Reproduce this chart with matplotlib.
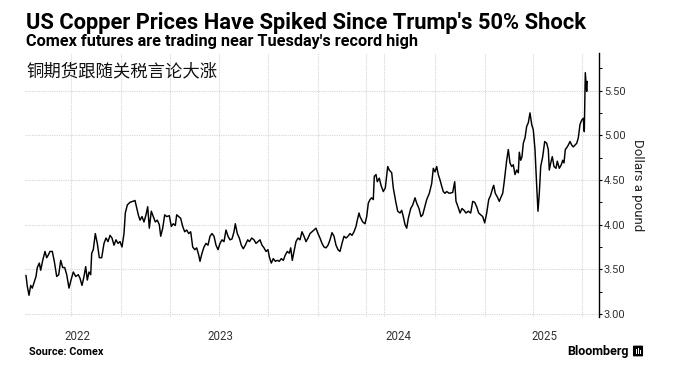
import matplotlib
matplotlib.use("Agg")
import matplotlib.pyplot as plt
from matplotlib.patches import FancyBboxPatch, Rectangle
import numpy as np

# ---------------- data (timeline position, $/lb) ----------------
t = [26, 27.3, 29, 30.7, 32.3, 34, 36, 37.3, 39.3, 40.7, 42.7, 45, 46.7, 48.3, 50, 52.3, 54.3,
     56.7, 58.7, 60.7, 62.7, 64.7, 66.7, 69, 71, 73.3, 75.7, 78.3, 80, 82, 84, 85.7, 87.3, 89,
     90.7, 91.7, 93.3, 95.3, 97.3, 99.3, 101.7, 104, 106, 108, 110, 112, 114, 116, 118, 120,
     122, 124, 125.3, 127.3, 130, 132.7, 135, 136, 138.3, 140, 142, 144, 146, 147.7, 149.3,
     151.3, 153.3, 155.3, 157.3, 159.3, 160.7, 162.7, 164.7, 166.7, 169.3, 171.3, 173.3,
     175.3, 176.7, 178.7, 180.7, 182.7, 184.7, 186.7, 188.7, 190.7, 192.7, 194.7, 196.7,
     198.7, 200, 202, 204, 206, 208, 210, 212, 214, 216, 218, 220, 222, 224, 226, 228, 230,
     232, 234, 235.3, 237.3, 239.3, 241.3, 243.3, 245.3, 247.7, 249.5, 251.7, 254, 256, 258,
     260, 262, 264, 266, 268, 269.3, 271.3, 273.3, 275.3, 277.3, 279.3, 281.3, 283.3, 285.3,
     287.3, 289.3, 290.7, 292.3, 294, 296, 298, 300, 302, 304, 306, 308, 310, 312, 314, 316,
     318, 320, 322, 324, 326, 328, 330, 332, 334, 336, 338, 340, 342, 344, 346, 348, 350, 352,
     354, 356, 357.3, 359, 360, 362.7, 365, 366.7, 368.3, 370, 371.7, 373.3, 374.3, 376,
     377.3, 379.3, 381, 383.3, 385.3, 387.7, 389.3, 391.7, 393.3, 395.7, 397.7, 400, 401.7,
     403.3, 405, 406.7, 408.3, 410.7, 412.7, 415, 416.7, 419, 421, 422.7, 424.3, 426.7, 429.3,
     431.7, 433.3, 435, 436.7, 438.3, 440, 441.7, 443.3, 445, 446.7, 449.3, 452.7, 454.7,
     456, 458, 460, 462, 464, 466, 468.3, 470.7, 472.7, 474.7, 476.7, 478.7, 480.7, 482.7,
     484.7, 486.7, 488.7, 490.7, 492.7, 493.7, 495.3, 497.3, 499.3, 500.7, 502.7, 504, 505.3,
     506.7, 508.3, 510, 511.7, 513.3, 515, 516.7, 518.3, 519.3, 520.7, 522, 523.3, 525,
     526.7, 528.3, 530, 531.7, 533.3, 535, 536.7, 538, 539.3, 540.7, 542.7, 544.7, 546.7,
     548.3, 549.3, 550.7, 552.3, 554, 556, 557.3, 559.3, 561.3, 562.7, 564, 565.3, 566.7,
     568.3, 570, 571.7, 573.3, 575, 576.7, 578.3, 580, 581.7, 583.3, 584.3, 585.3, 586.7, 587.3]

price = [3.43, 3.31, 3.21, 3.32, 3.29, 3.35, 3.42, 3.52, 3.57, 3.49, 3.60, 3.70, 3.63, 3.66, 3.70,
         3.70, 3.59, 3.42, 3.44, 3.60, 3.52, 3.52, 3.44, 3.29, 3.38, 3.47, 3.42, 3.44, 3.40, 3.32,
         3.42, 3.53, 3.38, 3.47, 3.44, 3.68, 3.72, 3.90, 3.79, 3.63, 3.63, 3.79, 3.85, 3.81, 3.88,
         3.85, 3.77, 3.83, 3.79, 3.81, 3.75, 3.90, 4.13, 4.22, 4.25, 4.26, 4.27, 4.22, 4.11, 4.05,
         4.09, 4.03, 4.11, 4.20, 3.96, 4.15, 4.09, 4.03, 4.05, 4.00, 3.87, 3.96, 4.11, 4.09, 4.10,
         3.98, 4.01, 3.99, 4.11, 4.09, 4.07, 3.98, 3.92, 3.94, 3.90, 3.92, 3.75, 3.72, 3.74, 3.66,
         3.59, 3.68, 3.75, 3.79, 3.77, 3.87, 3.90, 3.87, 3.77, 3.72, 3.79, 3.83, 3.81, 3.94, 3.87,
         3.83, 3.84, 3.92, 4.01, 3.90, 3.85, 3.77, 3.73, 3.77, 3.83, 3.81, 3.85, 3.83, 3.79, 3.81,
         3.83, 3.77, 3.74, 3.70, 3.72, 3.64, 3.57, 3.62, 3.59, 3.60, 3.59, 3.62, 3.60, 3.66, 3.70,
         3.68, 3.74, 3.60, 3.70, 3.81, 3.85, 3.83, 3.92, 3.87, 3.81, 3.85, 3.90, 3.92, 3.94, 3.96,
         3.90, 3.85, 3.79, 3.75, 3.74, 3.77, 3.83, 3.91, 3.87, 3.77, 3.72, 3.70, 3.79, 3.87, 3.85,
         3.87, 3.90, 3.88, 3.92, 3.98, 4.05, 4.13, 4.09, 4.03, 4.01, 4.09, 4.24, 4.28, 4.30, 4.28,
         4.54, 4.56, 4.48, 4.52, 4.44, 4.37, 4.41, 4.65, 4.61, 4.58, 4.41, 4.26, 4.15, 4.13, 4.16,
         4.09, 4.00, 3.96, 4.07, 4.18, 4.22, 4.30, 4.24, 4.18, 4.09, 4.11, 4.18, 4.28, 4.35, 4.46,
         4.63, 4.59, 4.65, 4.56, 4.50, 4.43, 4.37, 4.35, 4.37, 4.35, 4.36, 4.48, 4.26, 4.20, 4.13,
         4.18, 4.16, 4.13, 4.15, 4.13, 4.26, 4.25, 4.20, 4.13, 4.11, 4.09, 4.02, 4.13, 4.28, 4.33,
         4.41, 4.44, 4.35, 4.31, 4.26, 4.30, 4.35, 4.46, 4.59, 4.72, 4.84, 4.69, 4.65, 4.67, 4.56,
         4.61, 4.58, 4.81, 4.72, 4.76, 4.91, 4.97, 5.10, 5.14, 5.25, 5.12, 5.06, 4.84, 4.43, 4.15,
         4.35, 4.65, 4.76, 4.93, 4.91, 4.84, 4.61, 4.69, 4.76, 4.65, 4.63, 4.71, 4.63, 4.67, 4.72,
         4.69, 4.84, 4.86, 4.89, 4.93, 4.89, 4.87, 4.89, 4.91, 4.97, 5.12, 5.17, 5.19, 5.04, 5.70,
         5.49, 5.60]

year_labels = ["2022", "2023", "2024", "2025"]
year_pos = [77, 220, 398, 544]
grid_pos = [71, 121, 170, 219, 268, 318, 366, 384, 435, 485, 533, 582]
y_ticks = [3.00, 3.50, 4.00, 4.50, 5.00, 5.50]

# ---------------- figure ----------------
W, H = 689, 378
fig = plt.figure(figsize=(W / 100, H / 100), dpi=100)
fig.patch.set_facecolor("white")

ax = fig.add_axes([25 / W, 1 - 316.7 / H, (599 - 25) / W, (316.7 - 53) / H])
ax.plot(t, price, color="black", lw=1.05, solid_joinstyle="round")

ax.set_xlim(25, 599)
ax.set_ylim(2.97, 5.92)

for s in ["top", "left", "bottom"]:
    ax.spines[s].set_visible(False)
ax.spines["right"].set_linewidth(1.0)
ax.spines["right"].set_color("black")

# y axis on right
ax.yaxis.tick_right()
ax.set_yticks(y_ticks)
ax.set_yticklabels([f"{v:.2f}" for v in y_ticks])
ax.set_yticks(np.arange(3.25, 5.9, 0.5), minor=True)
ax.tick_params(axis="y", which="major", length=2.5, width=0.8, pad=1,
               labelsize=8, labelcolor="#333333", color="black")
ax.tick_params(axis="y", which="minor", length=2.0, width=0.7, color="black")
for lab in ax.get_yticklabels():
    lab.set_fontfamily("Roboto")

# x axis: year labels, separate gridlines
ax.set_xticks(year_pos)
ax.set_xticklabels(year_labels)
ax.set_xticks(grid_pos, minor=True)
ax.tick_params(axis="x", which="both", length=0, pad=9.5, labelsize=8.3, labelcolor="#333333")
for lab in ax.get_xticklabels():
    lab.set_fontfamily("Roboto")

ax.grid(axis="y", which="major", color="#d6d6d6", linestyle=(0, (1, 1)), lw=0.8)
ax.grid(axis="x", which="minor", color="#d6d6d6", linestyle=(0, (1, 1)), lw=0.8)
ax.grid(axis="x", which="major", visible=False)

ax.yaxis.set_label_position("right")
ax.set_ylabel("Dollars a pound", rotation=-90, fontsize=9.5, family="Roboto",
              color="#222222", labelpad=4, va="bottom")

# ---------------- texts ----------------
fig.text(26 / W, 1 - 29.5 / H, "US Copper Prices Have Spiked Since Trump's 50% Shock",
         family="Roboto", weight="bold", fontsize=15.75, va="baseline", ha="left", color="black")
fig.text(26 / W, 1 - 46.3 / H, "Comex futures are trading near Tuesday's record high",
         family="Roboto", weight="bold", fontsize=11.7, va="baseline", ha="left", color="black")
fig.text(26 / W, 1 - 71.7 / H, "铜期货跟随关税言论大涨",
         family=["Noto Sans CJK SC", "DejaVu Sans"], fontsize=12.5, va="center", ha="left",
         color="#111111")
fig.text(29 / W, 1 - 351.7 / H, "Source: Comex", family="Roboto", weight="bold",
         fontsize=7.8, va="center", ha="left", color="black")
fig.text(567 / W, 1 - 351 / H, "Bloomberg", family="Roboto", weight="bold",
         fontsize=9, va="center", ha="left", color="black")

# small Bloomberg icon
icon = FancyBboxPatch((634 / W, 1 - 355.5 / H), 8 / W, 9 / H,
                      boxstyle="round,pad=0.0005", transform=fig.transFigure,
                      facecolor="black", edgecolor="black")
fig.patches.append(icon)
for dx, hgt in [(1.6, 4.5), (3.6, 6), (5.6, 3.5)]:
    fig.patches.append(Rectangle(((634 + dx) / W, 1 - 353.5 / H), 1.0 / W, hgt / H,
                                 transform=fig.transFigure, facecolor="white",
                                 edgecolor="none"))

fig.savefig("out.png", dpi=100, facecolor="white")
